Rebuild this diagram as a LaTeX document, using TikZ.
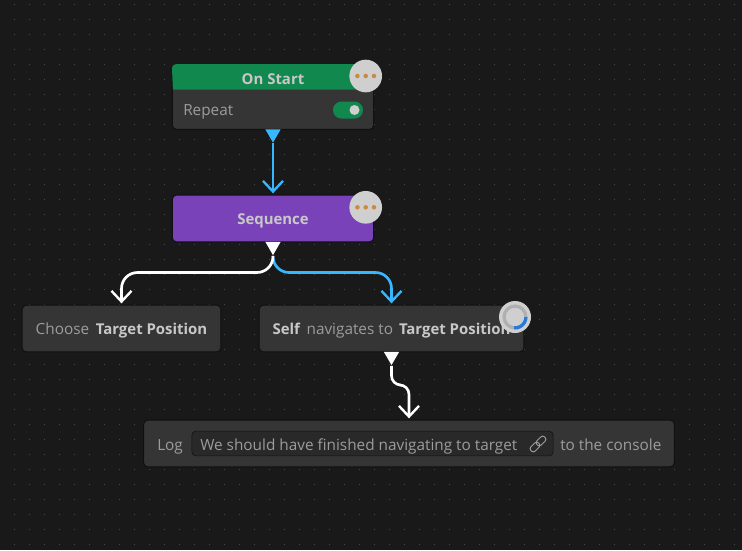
\documentclass[tikz,border=0pt]{standalone}
\usepackage{fontspec}
\setmainfont{Open Sans}
\usetikzlibrary{arrows.meta,positioning,shapes.geometric}

\definecolor{canvasbg}{HTML}{191919}
\definecolor{griddot}{HTML}{454545}
\definecolor{nodegray}{HTML}{353535}
\definecolor{nodeedge}{HTML}{101010}
\definecolor{fieldgray}{HTML}{292929}
\definecolor{flowgreen}{HTML}{11884E}
\definecolor{flowpurple}{HTML}{7A42B8}
\definecolor{flowblue}{HTML}{38B6FF}
\definecolor{spinblue}{HTML}{2979D9}
\definecolor{menugray}{HTML}{CFCFCF}
\definecolor{menudot}{HTML}{C98A45}
\definecolor{textdim}{HTML}{9C9C9C}
\definecolor{textlit}{HTML}{C8C8C8}

\newcommand{\nodebold}[1]{{\fontsize{11.2}{13}\selectfont\textbf{#1}}}

\begin{document}
\begin{tikzpicture}[
        x=0.75pt, y=-0.75pt,
        textline/.style={text height=11.3pt, text depth=2.3pt, font=\fontsize{11.5}{13}\selectfont},
        box/.style={draw=nodeedge, line width=0.75pt, rectangle, rounded corners=3pt, fill=nodegray, inner sep=0pt, minimum height=35pt, textline},
        label/.style={inner sep=0pt, anchor=west, text=textdim, textline},
        port/.style={isosceles triangle, isosceles triangle stretches, shape border rotate=-90, minimum width=11.5pt, minimum height=10pt, inner sep=0pt, anchor=lower side},
        menu/.style={circle, fill=menugray, minimum size=24.5pt, inner sep=0pt},
        arrow/.style={-{Straight Barb[length=8pt,width=15pt,line width=1.8pt]}, line width=2pt, shorten >=1pt},
        link/.style={draw=textdim, line width=0.75pt, rounded corners=1.8pt, rotate=45, minimum width=8pt, minimum height=4.5pt, inner sep=0pt}
    ]
        \fill [canvasbg] (0,0) rectangle (742,550);
        \useasboundingbox (0,0) rectangle (742,550);

        % Grid of dots
        \foreach \i in {0,...,48} {
            \foreach \j in {0,...,36} {
                \fill [griddot] (14.5+15*\i, 4.5+15*\j) circle (0.4pt);
            }
        }

        % On Start
        \node (onstart) [box, minimum width=151pt, minimum height=48.5pt] at (273,97) {};
        \fill [flowgreen, rounded corners=3pt] (onstart.north west) -- (onstart.north east) [sharp corners] -- ++(0,25.5) -- ++(-201.3,0) [rounded corners=3pt] -- cycle;
        \node (starttitle) [inner sep=0pt, text=textlit, textline] at (273,78) {\nodebold{On Start}};
        \node (repeat) [label] at (183,109.5) {Repeat};
        \node (toggle) [rectangle, rounded corners=6.3pt, fill=flowgreen, minimum width=22.5pt, minimum height=12.75pt, inner sep=0pt] at (348,110) {};
        \node (knob) [circle, fill=menugray, minimum size=7.5pt, inner sep=0pt] at (354.5,110) {};

        % Sequence
        \node (sequence) [box, fill=flowpurple, minimum width=151pt, text=textlit] at (273,218.5) {\nodebold{Sequence}};

        % Actions
        \node (choose) [box, minimum width=149pt] at (121.5,328.5) {\textcolor{textdim}{Choose}\hspace{5pt}\textcolor{textlit}{\nodebold{Target Position}}};
        \node (self) [box, minimum width=198.5pt] at (391.5,328.5) {\textcolor{textlit}{\nodebold{Self}}\hspace{4.5pt}\textcolor{textdim}{navigates to}\hspace{4.5pt}\textcolor{textlit}{\nodebold{Target Position}}};
        \node (log) [box, minimum width=398pt] at (409,443.5) {};
        \node (logtext) [label] at (157,444) {Log};
        \node (field) [draw=nodeedge, line width=0.4pt, rectangle, rounded corners=3pt, fill=fieldgray, inner sep=0pt, minimum width=271pt, minimum height=18.5pt] at (372.5,443.5) {};
        \node (fieldtext) [label] at (200,444) {We should have finished navigating to target};
        \node (linkleft) [link] at (535,447) {};
        \node (linkright) [link] at (541,441) {};
        \node (console) [label] at (560,444) {to the console};

        % Ports
        \node (startport) [port, fill=flowblue, yshift=0.6pt] at (onstart.south) {};
        \node (seqport) [port, fill=white, yshift=0.6pt] at (sequence.south) {};
        \node (selfport) [port, fill=white, yshift=0.6pt] at (self.south) {};

        % Connectors
        \coordinate (branch) at (200,272.5);
        \coordinate (twist) at (400,385);
        \draw [arrow, flowblue] (startport.apex) -- (sequence.north);
        \draw [arrow, flowblue, rounded corners=12pt] (seqport.apex) |- (self.north |- branch) -- (self.north);
        \draw [arrow, white, rounded corners=12pt] (seqport.apex) |- (choose.north |- branch) -- (choose.north);
        \draw [arrow, white, rounded corners=7pt] (selfport.apex) |- (log.north |- twist) -- (log.north);

        % Menus
        \node (startmenu) [menu] at (365.7,76) {};
        \node (seqmenu) [menu] at (365.7,207.3) {};
        \foreach \m in {startmenu,seqmenu} {
            \foreach \i in {-6.2,0,6.2} {
                \fill [menudot] ([xshift=\i pt]\m.center) circle (1.7pt);
            }
        }
        \node (spinner) [menu, minimum size=24pt] at (515,317) {};
        \draw [menugray!85!black, line width=2.4pt] (spinner.center) circle (8.2pt);
        \draw [spinblue, line width=2.4pt] ([xshift=8.2pt]spinner.center) arc [start angle=0, end angle=-95, radius=8.2pt];
    \end{tikzpicture}
\end{document}
